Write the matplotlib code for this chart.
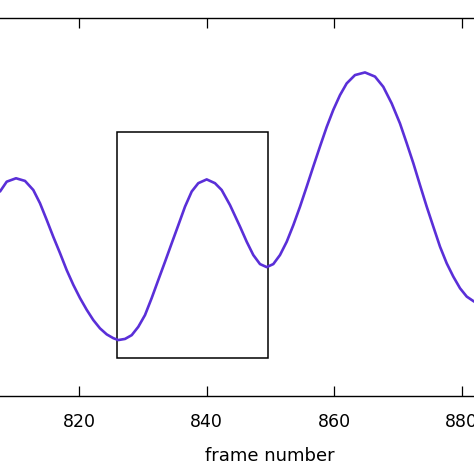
import matplotlib
matplotlib.use("Agg")
import matplotlib.pyplot as plt
from matplotlib.patches import Rectangle

# curve (frame number, signal in arbitrary units)
frames = [807.61, 808.66, 810.12, 811.53, 812.83, 813.88, 814.93, 815.97,
          817.02, 818.07, 819.11, 820.16, 821.21, 822.24, 823.29, 824.35,
          825.38, 826.17, 827.22, 828.27, 829.30, 830.35, 831.40, 832.44,
          833.49, 834.54, 835.58, 836.63, 837.68, 838.71, 840.03, 841.33,
          842.38, 843.69, 845.26, 846.31, 847.34, 848.39, 849.44, 850.48,
          851.53, 852.58, 853.62, 854.67, 855.72, 856.75, 857.80, 858.86,
          859.89, 860.94, 861.99, 863.29, 864.86, 866.43, 867.73, 869.05,
          870.35, 871.40, 872.44, 873.49, 874.54, 875.58, 876.63, 877.68,
          878.71, 879.77, 880.82, 881.96, 883.00]
signal = [0.541, 0.567, 0.576, 0.569, 0.545, 0.510, 0.466, 0.421,
          0.378, 0.333, 0.294, 0.259, 0.228, 0.201, 0.179, 0.163,
          0.153, 0.148, 0.151, 0.161, 0.183, 0.214, 0.259, 0.307,
          0.355, 0.404, 0.452, 0.501, 0.541, 0.563, 0.573, 0.563,
          0.545, 0.505, 0.448, 0.408, 0.373, 0.349, 0.341, 0.349,
          0.373, 0.408, 0.452, 0.501, 0.554, 0.607, 0.660, 0.712,
          0.757, 0.796, 0.827, 0.849, 0.856, 0.845, 0.818, 0.774,
          0.721, 0.669, 0.616, 0.558, 0.501, 0.448, 0.395, 0.351,
          0.316, 0.285, 0.263, 0.250, 0.245]

# highlighted window
box_x = [826.0, 849.6]
box_y = [0.100, 0.699]

xticks = [800, 820, 840, 860, 880, 900]

fig = plt.figure(figsize=(4.74, 4.74), dpi=100)
# the reference is a crop: axes run past the left and right edges
ax = fig.add_axes([-48.5 / 474, 78 / 474, 637.5 / 474, 378 / 474])

ax.plot(frames, signal, color='#5a2fd8', linewidth=1.9,
        solid_capstyle='round', solid_joinstyle='round')
ax.add_patch(Rectangle((box_x[0], box_y[0]), box_x[1] - box_x[0], box_y[1] - box_y[0],
                       fill=False, edgecolor='black', linewidth=1.1))

ax.set_xlim(800, 900)
ax.set_ylim(0, 1)
ax.set_xticks(xticks)
ax.set_yticks([])
ax.tick_params(axis='x', direction='in', length=7, width=0.9, top=True,
               labelsize=12.5, pad=12)
for s in ax.spines.values():
    s.set_linewidth(1.0)
ax.set_xlabel('frame number', fontsize=13, labelpad=12)

fig.savefig('out.png', dpi=100)
